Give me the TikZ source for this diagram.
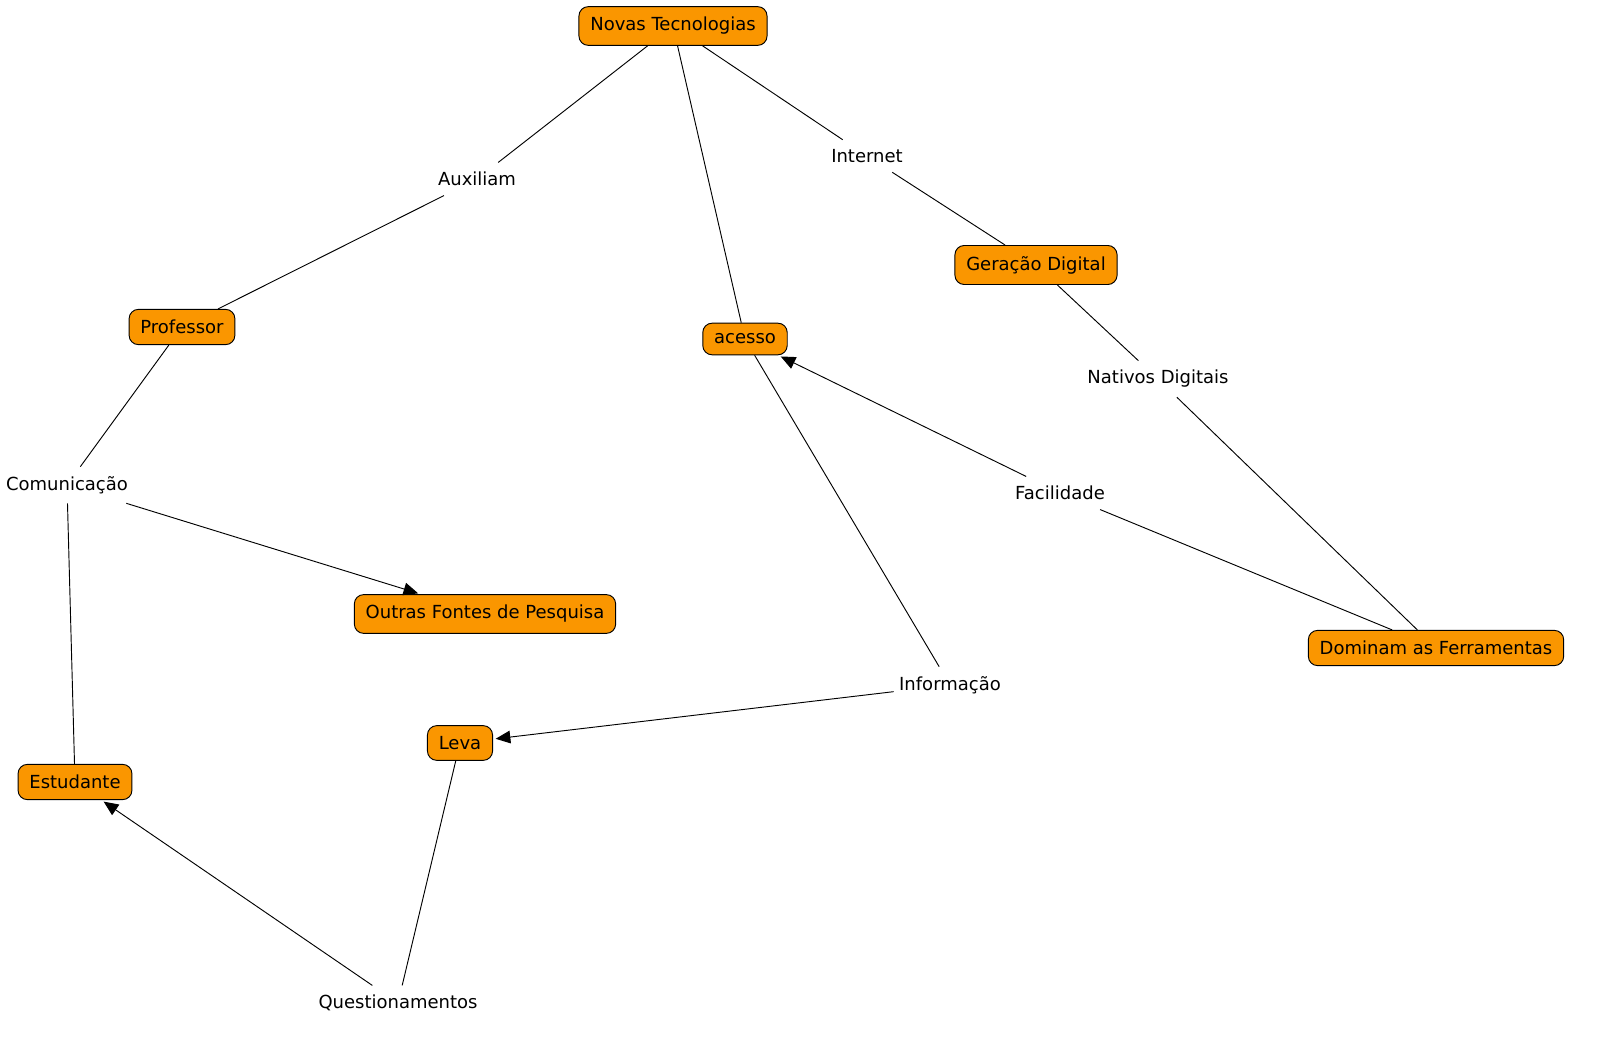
\documentclass[tikz,border=0pt]{standalone}
\usepackage{fontspec}
\setmainfont{DejaVu Sans}
\usetikzlibrary{arrows.meta}
\definecolor{conceptorange}{RGB}{250,150,0}

\begin{document}
\begin{tikzpicture}[x=0.75pt,y=-0.75pt,
  concept/.style={draw=black,fill=conceptorange,rounded corners=7pt,line width=0.7pt,
    inner xsep=8.5pt,inner ysep=8pt,font=\fontsize{13.5}{15}\selectfont},
  link/.style={inner xsep=4pt,inner ysep=7pt,font=\fontsize{13.5}{15}\selectfont},
  line/.style={line width=0.7pt},
  arrow/.style={line width=0.7pt,-{Triangle[length=11pt,width=9.5pt]},shorten >=2pt}]
\useasboundingbox(0,0) rectangle (1600,1045);
%
\node[concept](novas) at (673,26){Novas Tecnologias};
\node[concept](geracao) at (1036,265){Geração Digital};
\node[concept](professor) at (182,327){Professor};
\node[concept](acesso) at (745,339){acesso};
\node[concept](outras) at (485,614){Outras Fontes de Pesquisa};
\node[concept](dominam) at (1436,648){Dominam as Ferramentas};
\node[concept](leva) at (460,743){Leva};
\node[concept](estudante) at (75,782){Estudante};
%
\node[link](auxiliam) at (477,179){Auxiliam};
\node[link](internet) at (867,156){Internet};
\node[link](nativos) at (1158,379){Nativos Digitais};
\node[link](comunicacao) at (67,485){Comunicação};
\node[link](facilidade) at (1060,493){Facilidade};
\node[link](informacao) at (950,685){Informação};
\node[link](questionamentos) at (398,1003){Questionamentos};
%
\draw[line](novas)--(auxiliam);
\draw[line](auxiliam)--(professor);
\draw[line](novas)--(acesso);
\draw[line](novas)--(internet);
\draw[line](internet)--(geracao);
\draw[line](geracao)--(nativos);
\draw[line](nativos)--(dominam);
\draw[line](dominam)--(facilidade);
\draw[arrow](facilidade)--(acesso);
\draw[line](acesso)--(informacao);
\draw[arrow](informacao)--(leva);
\draw[line](leva)--(questionamentos);
\draw[arrow](questionamentos)--(estudante);
\draw[line](professor)--(comunicacao);
\draw[arrow](comunicacao)--(outras);
\draw[line](comunicacao)--(estudante);
\end{tikzpicture}
\end{document}
